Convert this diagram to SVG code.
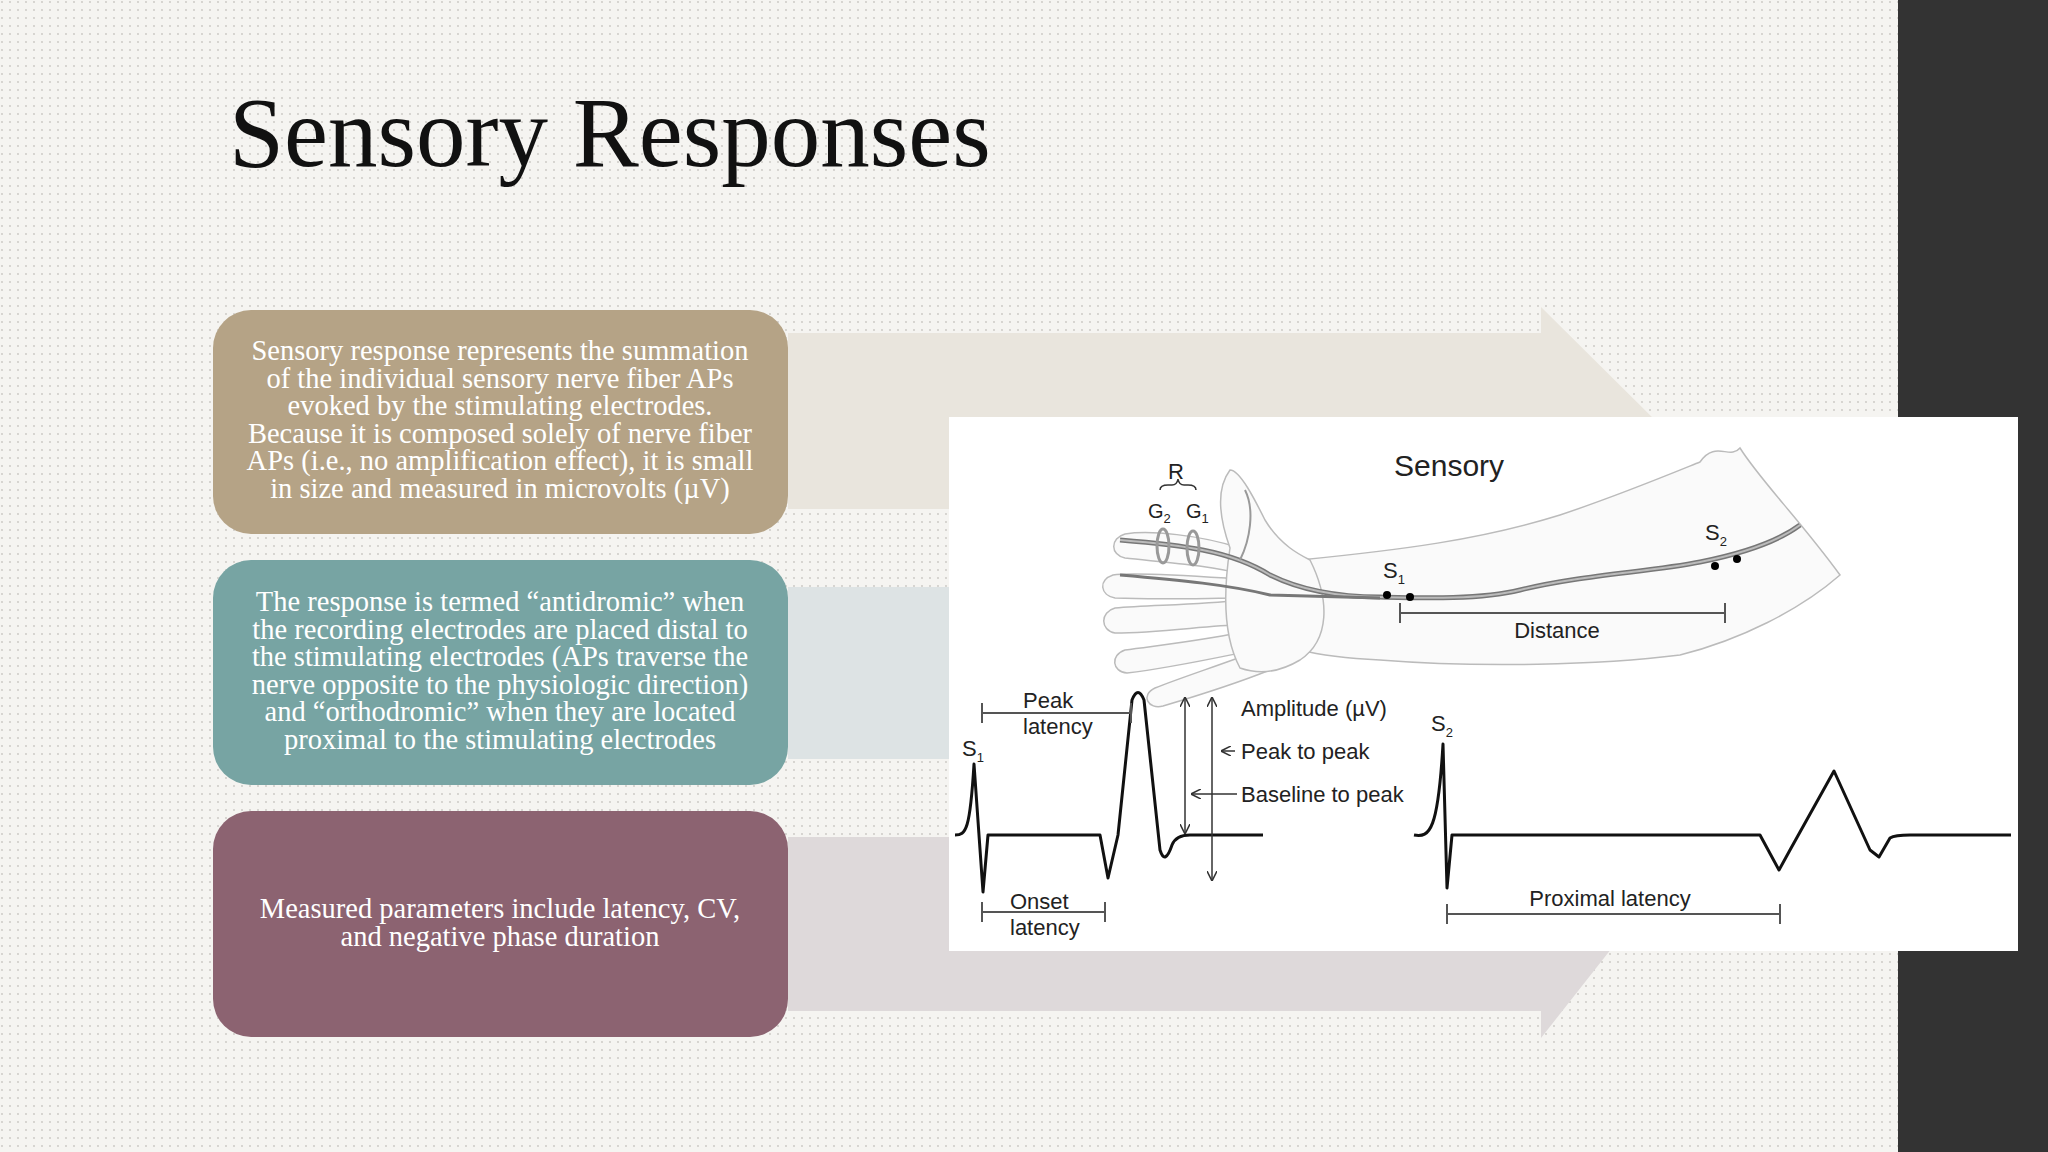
<svg xmlns="http://www.w3.org/2000/svg" width="2048" height="1152" viewBox="0 0 2048 1152">
<defs>
<pattern id="dots" width="8" height="8" patternUnits="userSpaceOnUse"><rect width="8" height="8" fill="#f5f4f1"/><circle cx="2" cy="2" r="0.9" fill="#c9c7c2"/></pattern>
<marker id="ah" viewBox="0 0 10 10" refX="9" refY="5" markerWidth="7" markerHeight="7" orient="auto-start-reverse"><path d="M0,0 L10,5 L0,10" fill="none" stroke="#333" stroke-width="1.5"/></marker>
<style>
.bt{font-family:"Liberation Serif",serif;font-size:28.5px;fill:#fff;text-anchor:middle}
.lb{font-family:"Liberation Sans",Arial,sans-serif;font-size:22px;fill:#222}
.big{font-size:30px}
.g{font-size:20px}
.sub{font-size:13px}
.w{fill:none;stroke:#111;stroke-width:3;stroke-linejoin:round}
.bar{fill:none;stroke:#555;stroke-width:2}
.skin{fill:#fafafa;stroke:#bbb;stroke-width:1.5}
</style>
</defs>
<rect width="2048" height="1152" fill="url(#dots)"/>
<rect x="1898" y="0" width="150" height="1152" fill="#333"/>
<text x="229" y="166" font-family="Liberation Serif,serif" font-size="99" fill="#111">Sensory Responses</text>

<g id="connectors">
<path d="M788,333 H1541 V307 L1660,425 L1541,543 V509 H788 Z" fill="#e9e5dd"/>
<rect x="788" y="587" width="170" height="172" fill="#dde3e4"/>
<path d="M788,837 H1541 V811 L1630,925 L1541,1038 V1011 H788 Z" fill="#ded9da"/>
</g>

<g id="box1"><rect x="213" y="310" width="575" height="224" rx="38" fill="#b5a386"/>
<text class="bt"><tspan x="500" y="360">Sensory response represents the summation</tspan><tspan x="500" y="388">of the individual sensory nerve fiber APs</tspan><tspan x="500" y="415">evoked by the stimulating electrodes.</tspan><tspan x="500" y="443">Because it is composed solely of nerve fiber</tspan><tspan x="500" y="470">APs (i.e., no amplification effect), it is small</tspan><tspan x="500" y="498">in size and measured in microvolts (µV)</tspan></text></g>

<g id="box2"><rect x="213" y="560" width="575" height="225" rx="38" fill="#77a4a3"/>
<text class="bt"><tspan x="500" y="611">The response is termed “antidromic” when</tspan><tspan x="500" y="639">the recording electrodes are placed distal to</tspan><tspan x="500" y="666">the stimulating electrodes (APs traverse the</tspan><tspan x="500" y="694">nerve opposite to the physiologic direction)</tspan><tspan x="500" y="721">and “orthodromic” when they are located</tspan><tspan x="500" y="749">proximal to the stimulating electrodes</tspan></text></g>

<g id="box3"><rect x="213" y="811" width="575" height="226" rx="38" fill="#8c6371"/>
<text class="bt"><tspan x="500" y="918">Measured parameters include latency, CV,</tspan><tspan x="500" y="946">and negative phase duration</tspan></text></g>

<g id="figure">
<rect x="949" y="417" width="1069" height="534" fill="#fff"/>
<!-- arm -->
<path class="skin" d="M1300,560 C1400,550 1480,540 1560,515 C1620,495 1680,470 1700,462 C1715,440 1730,460 1740,448 L1740,448 C1760,480 1800,520 1840,575 C1800,610 1740,640 1680,655 C1600,665 1480,668 1380,660 C1340,658 1320,655 1300,650 Z"/>
<!-- fingers -->
<path class="skin" d="M1240,548 C1200,535 1150,530 1125,534 C1110,538 1110,555 1125,558 C1160,562 1210,565 1245,575 Z"/>
<path class="skin" d="M1240,600 C1200,605 1150,605 1115,608 C1100,612 1100,630 1115,633 C1160,633 1210,625 1240,625 Z"/>
<path class="skin" d="M1250,630 C1210,640 1160,645 1125,650 C1110,655 1112,672 1127,673 C1170,668 1215,658 1255,650 Z"/>
<path class="skin" d="M1260,650 C1220,665 1180,678 1155,688 C1140,695 1148,710 1163,706 C1200,695 1240,682 1270,670 Z"/>
<path class="skin" d="M1226,578 C1180,575 1130,572 1113,575 C1098,580 1100,595 1115,598 C1160,600 1210,598 1240,598 Z"/>
<!-- palm + thumb -->
<path class="skin" d="M1230,548 C1220,520 1215,490 1230,470 C1240,470 1255,500 1265,520 C1280,545 1300,555 1310,560 C1330,600 1330,640 1300,660 C1280,672 1260,675 1240,668 C1225,640 1222,600 1230,548 Z"/>
<path d="M1120,540 C1180,545 1230,550 1270,575 C1300,590 1340,597 1380,597 C1420,598 1480,600 1520,590 C1580,575 1650,572 1700,562 C1750,552 1780,540 1800,525" fill="none" stroke="#777" stroke-width="5"/>
<path d="M1120,540 C1180,545 1230,550 1270,575 C1300,590 1340,597 1380,597 C1420,598 1480,600 1520,590 C1580,575 1650,572 1700,562 C1750,552 1780,540 1800,525" fill="none" stroke="#bbb" stroke-width="2"/>
<path d="M1120,575 C1180,580 1230,585 1270,595 L1380,598" fill="none" stroke="#777" stroke-width="3"/>
<path d="M1240,560 C1250,540 1255,510 1245,490" fill="none" stroke="#999" stroke-width="2"/>
<ellipse cx="1163" cy="546" rx="6" ry="17" fill="none" stroke="#999" stroke-width="3"/>
<ellipse cx="1193" cy="548" rx="6" ry="17" fill="none" stroke="#999" stroke-width="3"/>
<circle cx="1387" cy="595" r="4" fill="#000"/><circle cx="1410" cy="597" r="4" fill="#000"/>
<circle cx="1715" cy="566" r="4" fill="#000"/><circle cx="1737" cy="559" r="4" fill="#000"/>
<text class="lb big" x="1394" y="476">Sensory</text>
<text class="lb" x="1168" y="479">R</text>
<path d="M1160,490 q0,-5 8,-5 h4 q5,0 6,-6 q1,6 6,6 h4 q8,0 8,5" fill="none" stroke="#333" stroke-width="1.5"/>
<text class="lb g" x="1148" y="518">G<tspan class="sub" dy="5">2</tspan></text>
<text class="lb g" x="1186" y="518">G<tspan class="sub" dy="5">1</tspan></text>
<text class="lb" x="1383" y="578">S<tspan class="sub" dy="6">1</tspan></text>
<text class="lb" x="1705" y="540">S<tspan class="sub" dy="6">2</tspan></text>
<path class="bar" d="M1400,613 H1725 M1400,603 V623 M1725,603 V623"/>
<text class="lb" x="1557" y="638" text-anchor="middle">Distance</text>

<path class="w" d="M955,835 C966,835 970,830 974,764 L983,892 L988,835 H1100 L1108,878 L1118,835 L1132,700 Q1138,685 1144,700 L1160,850 Q1165,866 1172,845 Q1176,835 1190,835 H1263"/>
<text class="lb" x="962" y="756">S<tspan class="sub" dy="6">1</tspan></text>
<path class="bar" d="M982,713 H1131 M982,703 V723 M1131,703 V723"/>
<text class="lb" x="1023" y="708">Peak</text>
<text class="lb" x="1023" y="734">latency</text>
<line x1="1185" y1="698" x2="1185" y2="833" stroke="#333" stroke-width="1.5" marker-start="url(#ah)" marker-end="url(#ah)"/>
<line x1="1212" y1="698" x2="1212" y2="880" stroke="#333" stroke-width="1.5" marker-start="url(#ah)" marker-end="url(#ah)"/>
<text class="lb" x="1241" y="716">Amplitude (µV)</text>
<line x1="1235" y1="751" x2="1222" y2="751" stroke="#333" stroke-width="1.5" marker-end="url(#ah)"/>
<text class="lb" x="1241" y="759">Peak to peak</text>
<line x1="1237" y1="794" x2="1192" y2="794" stroke="#333" stroke-width="1.5" marker-end="url(#ah)"/>
<text class="lb" x="1241" y="802">Baseline to peak</text>
<path class="bar" d="M982,912 H1105 M982,902 V922 M1105,902 V922"/>
<text class="lb" x="1010" y="909">Onset</text>
<text class="lb" x="1010" y="935">latency</text>

<path class="w" d="M1414,835 C1430,838 1438,830 1443,744 L1447,888 L1452,835 H1760 L1779,870 L1790,850 L1834,771 L1870,850 L1879,857 L1890,838 Q1895,835 1910,835 H2011"/>
<text class="lb" x="1431" y="731">S<tspan class="sub" dy="6">2</tspan></text>
<path class="bar" d="M1447,914 H1780 M1447,904 V924 M1780,904 V924"/>
<text class="lb" x="1610" y="906" text-anchor="middle">Proximal latency</text>
</g>
</svg>
